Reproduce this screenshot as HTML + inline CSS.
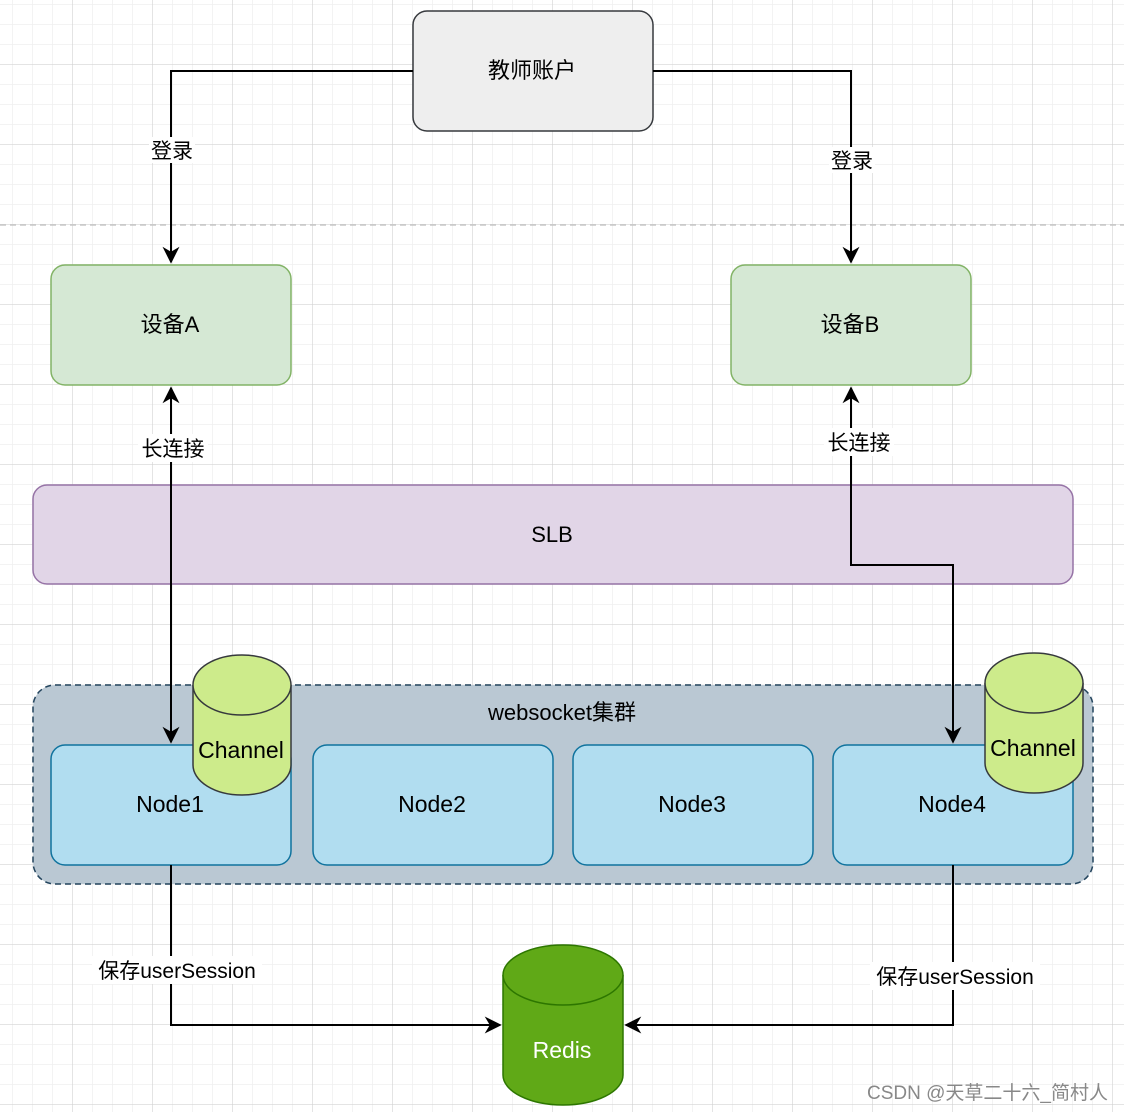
<!DOCTYPE html>
<html><head><meta charset="utf-8"><style>
html,body{margin:0;padding:0;background:#fff;}
svg text{font-family:"Liberation Sans","Noto Sans CJK SC",sans-serif;}
</style></head><body>
<svg width="1124" height="1112" viewBox="0 0 1124 1112" xmlns="http://www.w3.org/2000/svg">
<defs>
<pattern id="minor" x="12" y="4" width="20" height="20" patternUnits="userSpaceOnUse">
<path d="M0 0H20M0 0V20" stroke="#efefef" stroke-width="1.5" fill="none"/>
</pattern>
<pattern id="major" x="72" y="64" width="80" height="80" patternUnits="userSpaceOnUse">
<path d="M0 0H80M0 0V80" stroke="#d0d0d0" stroke-width="1" fill="none"/>
</pattern>
<marker id="ar2" viewBox="0 0 10 10" refX="9" refY="5" markerWidth="17" markerHeight="17" markerUnits="userSpaceOnUse" orient="auto-start-reverse">
<path d="M0 0L10 5L0 10L3 5Z" fill="#000"/>
</marker>
</defs>
<rect width="1124" height="1112" fill="#fff"/>
<rect width="1124" height="1112" fill="url(#minor)"/>
<rect width="1124" height="1112" fill="url(#major)"/>
<line x1="0" y1="225" x2="1124" y2="225" stroke="#c8c8c8" stroke-width="1.5" stroke-dasharray="6,4"/>

<rect x="413" y="11" width="240" height="120" rx="14" fill="#eeeeee" stroke="#36393d" stroke-width="1.5"/>
<text x="532" y="78" font-size="22" text-anchor="middle">教师账户</text>

<path d="M413 71H171V262" fill="none" stroke="#000" stroke-width="2" marker-end="url(#ar2)"/>
<path d="M653 71H851V262" fill="none" stroke="#000" stroke-width="2" marker-end="url(#ar2)"/>
<rect x="149" y="137" width="46" height="26" fill="#fff"/>
<text x="172" y="158" font-size="21" text-anchor="middle">登录</text>
<rect x="829" y="147" width="46" height="26" fill="#fff"/>
<text x="852" y="168" font-size="21" text-anchor="middle">登录</text>

<rect x="51" y="265" width="240" height="120" rx="14" fill="#d5e8d4" stroke="#82b366" stroke-width="1.5"/>
<text x="170" y="332" font-size="22" text-anchor="middle">设备A</text>
<rect x="731" y="265" width="240" height="120" rx="14" fill="#d5e8d4" stroke="#82b366" stroke-width="1.5"/>
<text x="850" y="332" font-size="22" text-anchor="middle">设备B</text>

<rect x="33" y="485" width="1040" height="99" rx="14" fill="#e1d5e7" stroke="#9673a6" stroke-width="1.5"/>
<text x="552" y="542" font-size="22" text-anchor="middle">SLB</text>

<rect x="33" y="685" width="1060" height="199" rx="22" fill="#bac8d3" stroke="#23445d" stroke-width="1.5" stroke-dasharray="6,4"/>
<text x="562" y="720" font-size="22" text-anchor="middle">websocket集群</text>

<path d="M171 388V742" fill="none" stroke="#000" stroke-width="2" marker-start="url(#ar2)" marker-end="url(#ar2)"/>
<rect x="138" y="434" width="70" height="28" fill="#fff"/>
<text x="173" y="456" font-size="21" text-anchor="middle">长连接</text>
<path d="M851 388V565H953V742" fill="none" stroke="#000" stroke-width="2" marker-start="url(#ar2)" marker-end="url(#ar2)"/>
<rect x="824" y="428" width="70" height="28" fill="#fff"/>
<text x="859" y="450" font-size="21" text-anchor="middle">长连接</text>

<g fill="#b1ddf0" stroke="#10739e" stroke-width="1.5">
<rect x="51" y="745" width="240" height="120" rx="14"/>
<rect x="313" y="745" width="240" height="120" rx="14"/>
<rect x="573" y="745" width="240" height="120" rx="14"/>
<rect x="833" y="745" width="240" height="120" rx="14"/>
</g>
<g font-size="23" text-anchor="middle">
<text x="170" y="812">Node1</text>
<text x="432" y="812">Node2</text>
<text x="692" y="812">Node3</text>
<text x="952" y="812">Node4</text>
</g>

<g fill="#cdeb8b" stroke="#36393d" stroke-width="1.5">
<path d="M193 685A49 30 0 0 1 291 685V765A49 30 0 0 1 193 765Z"/>
<path d="M193 685A49 30 0 0 0 291 685"/>
<path d="M985 683A49 30 0 0 1 1083 683V763A49 30 0 0 1 985 763Z"/>
<path d="M985 683A49 30 0 0 0 1083 683"/>
</g>
<text x="241" y="758" font-size="23" text-anchor="middle">Channel</text>
<text x="1033" y="756" font-size="23" text-anchor="middle">Channel</text>

<path d="M171 865V1025H500" fill="none" stroke="#000" stroke-width="2" marker-end="url(#ar2)"/>
<path d="M953 865V1025H626" fill="none" stroke="#000" stroke-width="2" marker-end="url(#ar2)"/>
<rect x="92" y="956" width="170" height="28" fill="#fff"/>
<text x="177" y="978" font-size="21" text-anchor="middle">保存userSession</text>
<rect x="870" y="962" width="170" height="28" fill="#fff"/>
<text x="955" y="984" font-size="21" text-anchor="middle">保存userSession</text>
<g fill="#60a917" stroke="#2d7600" stroke-width="1.5">
<path d="M503 975A60 30 0 0 1 623 975V1075A60 30 0 0 1 503 1075Z"/>
<path d="M503 975A60 30 0 0 0 623 975"/>
</g>
<text x="562" y="1058" font-size="23" fill="#fff" text-anchor="middle">Redis</text>

<text x="1108" y="1099" font-size="19" fill="#888" text-anchor="end">CSDN @天草二十六_简村人</text>
</svg>
</body></html>
